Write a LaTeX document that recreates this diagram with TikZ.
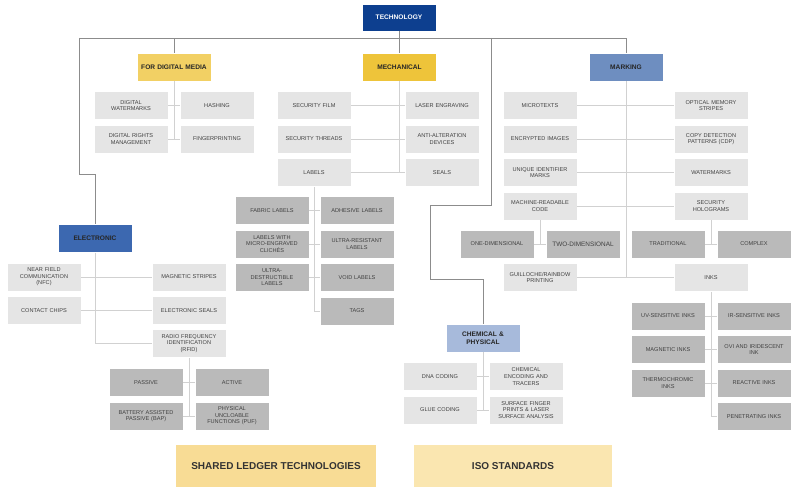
\documentclass[tikz,border=0pt]{standalone}
\usepackage{fontspec}
\setmainfont{Liberation Sans}
\begin{document}
\begin{tikzpicture}[x=1pt,y=-1pt,
 box/.style={draw=white,line width=0.6pt,minimum width=74pt,minimum height=28pt,inner sep=1pt,align=center,text width=70pt,font=\fontsize{5.6}{6.6}\selectfont,text=black!75},
 lt/.style={box,fill=black!10},
 dk/.style={box,fill=black!27},
 hd/.style={box,font=\fontsize{6.6}{7.8}\selectfont\bfseries,text=black!85},
 main/.style={draw=black!45,line width=0.8pt},
 sub/.style={draw=black!18,line width=0.8pt}]
\useasboundingbox (0,0) rectangle (800,494);
\definecolor{tb}{HTML}{0D3F8F}\definecolor{y1}{HTML}{F2D064}\definecolor{y2}{HTML}{EEC43A}
\definecolor{mk}{HTML}{6E8EC0}\definecolor{el}{HTML}{3C68B0}\definecolor{ch}{HTML}{A7BADB}
\definecolor{sl}{HTML}{F8DC95}\definecolor{iso}{HTML}{FAE6B0}
% headers
\node[hd,fill=tb,text=white,minimum height=27pt] (tech) at (399,17.5) {TECHNOLOGY};
\node[hd,fill=y1] (fdm) at (174,67) {FOR DIGITAL MEDIA};
\node[hd,fill=y2] (mech) at (399.5,67) {MECHANICAL};
\node[hd,fill=mk] (mark) at (626,67) {MARKING};
\node[hd,fill=el] (elec) at (95,238.5) {ELECTRONIC};
\node[hd,fill=ch] (chem) at (483,338) {CHEMICAL \&\\PHYSICAL};
% main connectors
\coordinate (tl) at (79,38); \coordinate (tr) at (626,38);
\coordinate (e1) at (79,174); \coordinate (e2) at (95,174);
\coordinate (c0) at (491,38); \coordinate (c1) at (491,205); \coordinate (c2) at (430,205);
\coordinate (c3) at (430,279); \coordinate (c4) at (483,279);
\draw[main] (tech.south) -- (399,38);
\draw[main] (tl) -- (tr) -- (mark.north);
\draw[main] (fdm.north) -- (fdm.north |- tl);
\draw[main] (mech.north) -- (mech.north |- tl);
\draw[main] (tl) -- (e1) -- (e2) -- (elec.north);
\draw[main] (c0) -- (c1) -- (c2) -- (c3) -- (c4) -- (chem.north);
% digital media
\node[lt] (dw) at (131,105.5) {DIGITAL\\WATERMARKS};
\node[lt] (hash) at (217,105.5) {HASHING};
\node[lt] (drm) at (131,139) {DIGITAL RIGHTS\\MANAGEMENT};
\node[lt] (fp) at (217,139) {FINGERPRINTING};
\draw[sub] (fdm.south) -- (174,139);
\draw[sub] (dw.east) -- (hash.west); \draw[sub] (drm.east) -- (fp.west);
% mechanical
\node[lt] (sf) at (314,105.5) {SECURITY FILM};
\node[lt] (le) at (442,105.5) {LASER ENGRAVING};
\node[lt] (st) at (314,139) {SECURITY THREADS};
\node[lt] (aa) at (442,139) {ANTI-ALTERATION\\DEVICES};
\node[lt] (lab) at (314,172.5) {LABELS};
\node[lt] (seal) at (442,172.5) {SEALS};
\draw[sub] (mech.south) -- (399.5,172.5);
\draw[sub] (sf.east) -- (le.west); \draw[sub] (st.east) -- (aa.west); \draw[sub] (lab.east) -- (seal.west);
\node[dk] (fab) at (272,210.5) {FABRIC LABELS};
\node[dk] (adh) at (357,210.5) {ADHESIVE LABELS};
\node[dk] (lwm) at (272,244) {LABELS WITH\\MICRO-ENGRAVED\\CLICHÉS};
\node[dk] (ur) at (357,244) {ULTRA-RESISTANT\\LABELS};
\node[dk] (ud) at (272,277.5) {ULTRA-\\DESTRUCTIBLE\\LABELS};
\node[dk] (void) at (357,277.5) {VOID LABELS};
\node[dk] (tags) at (357,311) {TAGS};
\draw[sub] (lab.south) -- (lab.south |- tags);
\draw[sub] (fab.east) -- (adh.west); \draw[sub] (lwm.east) -- (ur.west); \draw[sub] (ud.east) -- (void.west);
\draw[sub] (lab.south |- tags) -- (tags.west);
% marking
\node[lt] (micro) at (540,105.5) {MICROTEXTS};
\node[lt] (oms) at (711,105.5) {OPTICAL MEMORY\\STRIPES};
\node[lt] (enc) at (540,139) {ENCRYPTED IMAGES};
\node[lt] (cdp) at (711,139) {COPY DETECTION\\PATTERNS (CDP)};
\node[lt] (uim) at (540,172.5) {UNIQUE IDENTIFIER\\MARKS};
\node[lt] (wm) at (711,172.5) {WATERMARKS};
\node[lt] (mrc) at (540,206) {MACHINE-READABLE\\CODE};
\node[lt] (sh) at (711,206) {SECURITY\\HOLOGRAMS};
\node[lt] (gui) at (540,277.5) {GUILLOCHE/RAINBOW\\PRINTING};
\node[lt] (inks) at (711,277.5) {INKS};
\draw[sub] (mark.south) -- (626,277.5);
\foreach \a/\b in {micro/oms,enc/cdp,uim/wm,mrc/sh,gui/inks} \draw[sub] (\a.east) -- (\b.west);
\node[dk] (one) at (497,244) {ONE-DIMENSIONAL};
\node[dk,font=\fontsize{6.4}{7.4}\selectfont] (two) at (583,244) {TWO-DIMENSIONAL};
\node[dk] (trad) at (668,244) {TRADITIONAL};
\node[dk] (cplx) at (754,244) {COMPLEX};
\draw[sub] (mrc.south) -- (540,244); \draw[sub] (one.east) -- (two.west);
\draw[sub] (sh.south) -- (711,244); \draw[sub] (trad.east) -- (cplx.west);
\node[dk] (uv) at (668,316) {UV-SENSITIVE INKS};
\node[dk] (ir) at (754,316) {IR-SENSITIVE INKS};
\node[dk] (mag) at (668,349.5) {MAGNETIC INKS};
\node[dk] (ovi) at (754,349.5) {OVI AND IRIDESCENT\\INK};
\node[dk] (thermo) at (668,383) {THERMOCHROMIC\\INKS};
\node[dk] (react) at (754,383) {REACTIVE INKS};
\node[dk] (pen) at (754,416.5) {PENETRATING INKS};
\draw[sub] (inks.south) -- (711,416.5) -- (pen.west);
\foreach \a/\b in {uv/ir,mag/ovi,thermo/react} \draw[sub] (\a.east) -- (\b.west);
% electronic
\node[lt] (nfc) at (44,277) {NEAR FIELD\\COMMUNICATION\\(NFC)};
\node[lt] (ms) at (189,277) {MAGNETIC STRIPES};
\node[lt] (cc) at (44,310.5) {CONTACT CHIPS};
\node[lt] (es) at (189,310.5) {ELECTRONIC SEALS};
\node[lt] (rfid) at (189,343.5) {RADIO FREQUENCY\\IDENTIFICATION\\(RFID)};
\draw[sub] (elec.south) -- (95,343.5) -- (rfid.west);
\draw[sub] (nfc.east) -- (ms.west); \draw[sub] (cc.east) -- (es.west);
\node[dk] (pas) at (146,382.5) {PASSIVE};
\node[dk] (act) at (232,382.5) {ACTIVE};
\node[dk] (bap) at (146,416) {BATTERY ASSISTED\\PASSIVE (BAP)};
\node[dk] (puf) at (232,416) {PHYSICAL\\UNCLOABLE\\FUNCTIONS (PUF)};
\draw[sub] (rfid.south) -- (189,416);
\draw[sub] (pas.east) -- (act.west); \draw[sub] (bap.east) -- (puf.west);
% chemical
\node[lt] (dna) at (440,376.5) {DNA CODING};
\node[lt] (cet) at (526,376.5) {CHEMICAL\\ENCODING AND\\TRACERS};
\node[lt] (glue) at (440,410) {GLUE CODING};
\node[lt] (sfp) at (526,410) {SURFACE FINGER\\PRINTS \& LASER\\SURFACE ANALYSIS};
\draw[sub] (chem.south) -- (483,410);
\draw[sub] (dna.east) -- (cet.west); \draw[sub] (glue.east) -- (sfp.west);
% bottom
\node[fill=sl,minimum width=200pt,minimum height=42pt,font=\fontsize{10}{12}\selectfont\bfseries,text=black!80] (sl) at (276,466) {SHARED LEDGER TECHNOLOGIES};
\node[fill=iso,minimum width=198pt,minimum height=42pt,font=\fontsize{10}{12}\selectfont\bfseries,text=black!80] (iso) at (513,466) {ISO STANDARDS};
\end{tikzpicture}
\end{document}
